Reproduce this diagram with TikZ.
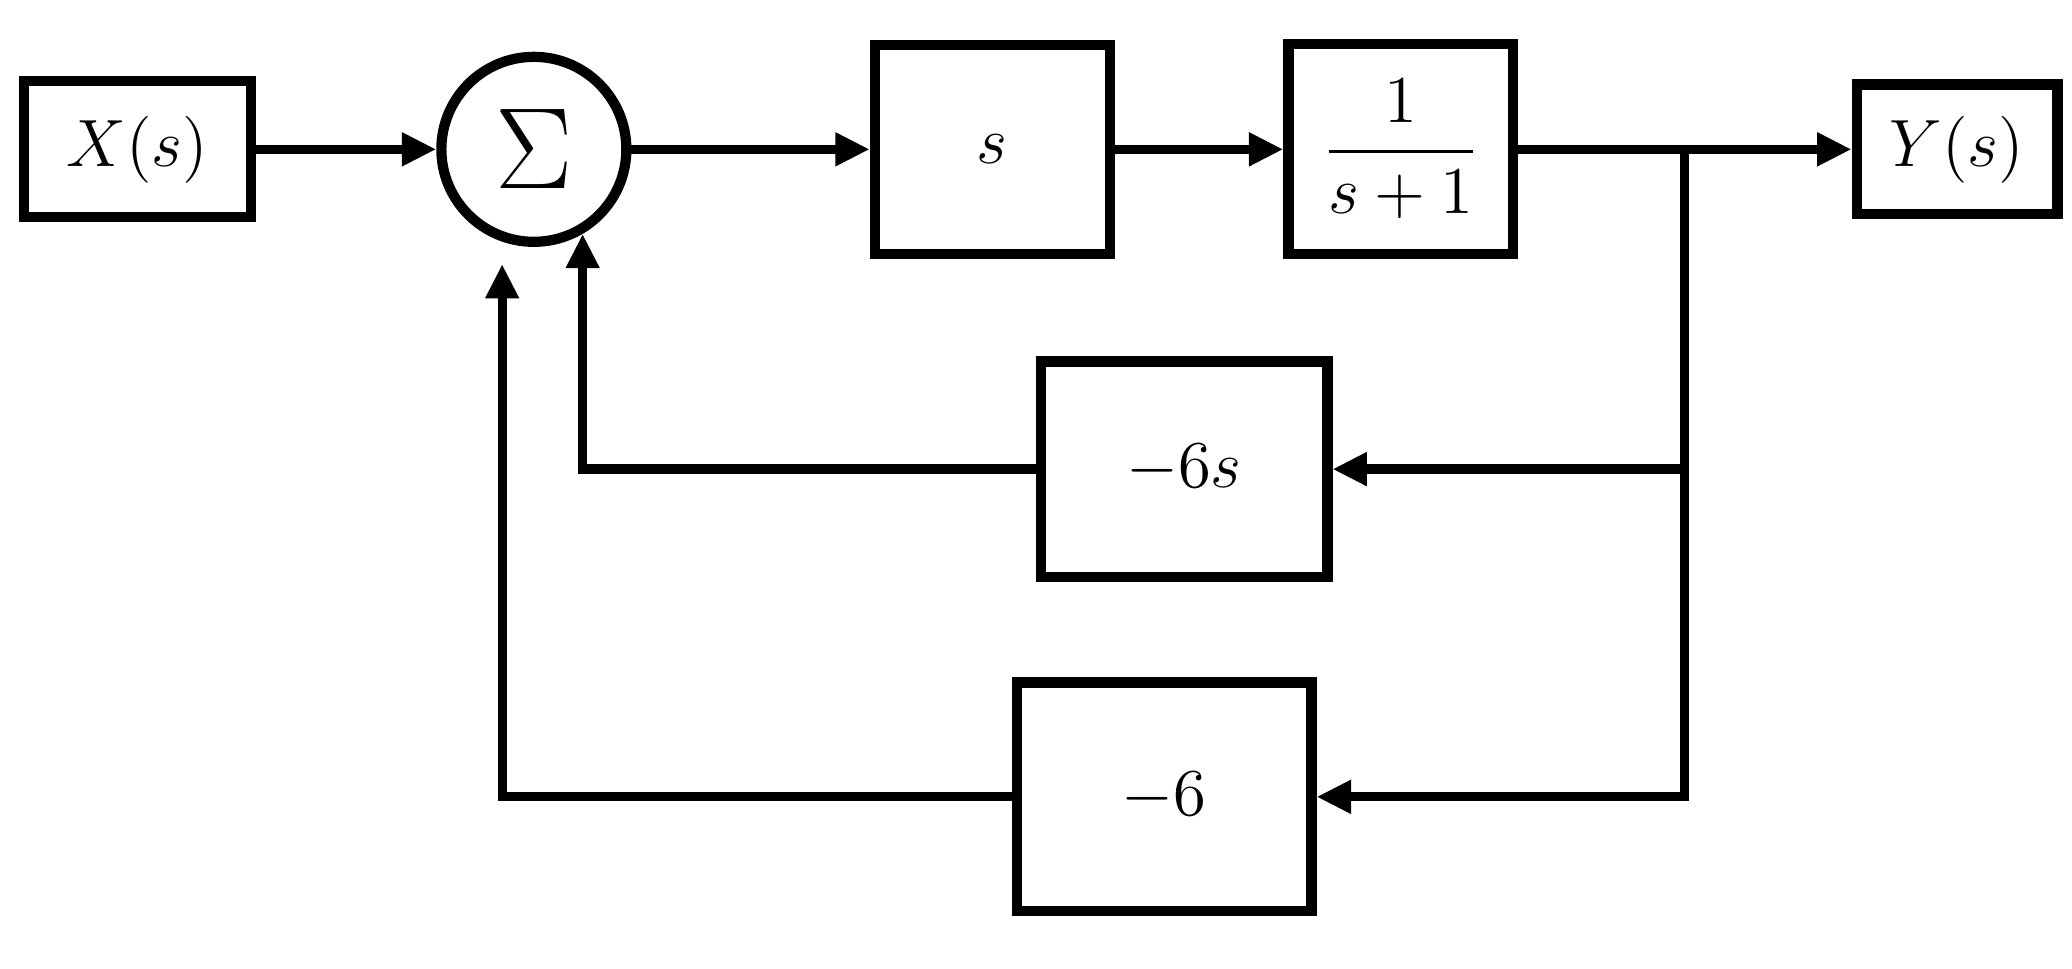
\documentclass[tikz,border=0pt]{standalone}
\usepackage{amsmath}
\usetikzlibrary{arrows.meta}

\begin{document}
\begin{tikzpicture}

    % let's define some key values
    \def\yrow{-1.13}
    \def\xbranch{12.75}
    \def\yfbone{-3.55}
    \def\yfbtwo{-6.03}

    % page frame
    \useasboundingbox (0,0) rectangle (15.68,-7.33);

    % Styles
    \tikzset{
        block/.style={draw, line width=2.2pt, rectangle, inner sep=0pt,
            font=\fontsize{15}{18}\selectfont},
        summer/.style={draw, line width=2.2pt, circle, minimum size=1.40cm,
            inner sep=0pt, font=\fontsize{25}{29}\selectfont},
        sig/.style={line width=2pt, -{Triangle[length=2.6mm,width=2.4mm]}},
        wire/.style={line width=2pt}
    }

    % forward path
    \node[block, minimum width=1.72cm, minimum height=1.03cm] (input) at (1.04,\yrow) {$X(s)$};
    \node[summer] (sum) at (4.04,\yrow) {$\Sigma$};
    \node[block, minimum width=1.78cm, minimum height=1.58cm] (gs) at (7.51,\yrow) {$s$};
    \node[block, minimum width=1.70cm, minimum height=1.59cm] (gplant) at (10.60,\yrow) {$\dfrac{1}{s+1}$};
    \node[block, minimum width=1.52cm, minimum height=0.98cm] (output) at (14.81,\yrow) {$Y(s)$};

    % feedback blocks
    \node[block, minimum width=2.17cm, minimum height=1.63cm] (hderiv) at (8.96,\yfbone) {$-6s$};
    \node[block, minimum width=2.23cm, minimum height=1.73cm] (hgain) at (8.81,\yfbtwo) {$-6$};

    % pick-off point and the lower summer input
    \coordinate (branch) at (\xbranch,\yrow);
    \coordinate (tapone) at (\xbranch,\yfbone);
    \coordinate (sumin) at ([xshift=-0.24cm,yshift=-0.13cm]sum.south);

    % forward signals
    \draw[sig] (input) -- (sum);
    \draw[sig] (sum) -- (gs);
    \draw[sig] (gs) -- (gplant);
    \draw[sig] (gplant) -- (output);

    % take-off lines
    \draw[sig, line join=miter] (branch) |- (hgain.east);
    \draw[sig] (tapone) -- (hderiv.east);

    % back to the summer
    \draw[sig] (hderiv.west) -| (sum.-60);
    \draw[sig] (hgain.west) -| (sumin);

\end{tikzpicture}
\end{document}
